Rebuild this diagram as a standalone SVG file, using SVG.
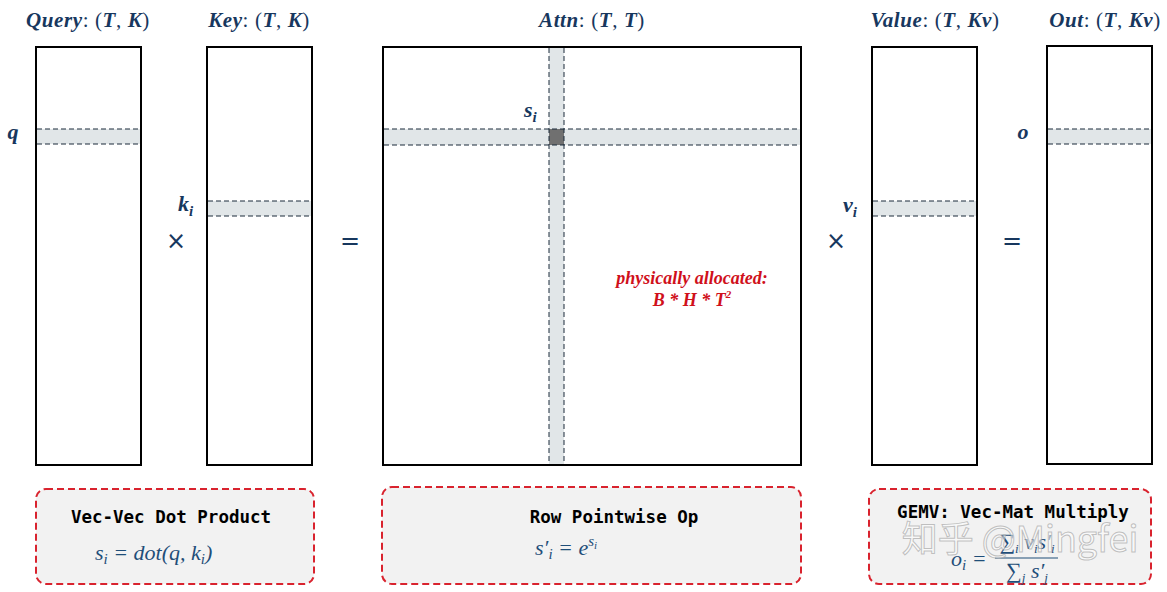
<svg xmlns="http://www.w3.org/2000/svg" width="1167" height="592" viewBox="0 0 1167 592">
<style>
.mat{fill:#fff;stroke:#000;stroke-width:2}
.band{fill:#e1e6e8;stroke:none}
.dash{stroke:#1a2a3a;stroke-width:1;stroke-dasharray:5 3;fill:none}
.t{font-family:"Liberation Serif",serif;fill:#17375e}
.bi{font-weight:bold;font-style:italic}
.op{font-family:"DejaVu Sans",sans-serif;fill:#17375e;font-size:24px}
.box{fill:#f2f2f2;stroke:#d9232e;stroke-width:2;stroke-dasharray:7 4}
.mono{font-family:"DejaVu Sans Mono","Liberation Mono",monospace;font-weight:bold;font-size:17.5px;fill:#000}
.f{font-family:"Liberation Serif",serif;font-style:italic;fill:#1f4e79;font-size:22px}
.red{font-family:"Liberation Serif",serif;font-weight:bold;font-style:italic;fill:#d0101b;font-size:18px}
</style>
<g id="titles" class="t" font-size="21" letter-spacing="0.6">
<text x="88" y="27" text-anchor="middle"><tspan class="bi">Query</tspan>: (<tspan class="bi">T</tspan>, <tspan class="bi">K</tspan>)</text>
<text x="259" y="27" text-anchor="middle"><tspan class="bi">Key</tspan>: (<tspan class="bi">T</tspan>, <tspan class="bi">K</tspan>)</text>
<text x="592" y="27" text-anchor="middle"><tspan class="bi">Attn</tspan>: (<tspan class="bi">T</tspan>, <tspan class="bi">T</tspan>)</text>
<text x="935" y="27" text-anchor="middle"><tspan class="bi">Value</tspan>: (<tspan class="bi">T</tspan>, <tspan class="bi">Kv</tspan>)</text>
<text x="1105" y="27" text-anchor="middle"><tspan class="bi">Out</tspan>: (<tspan class="bi">T</tspan>, <tspan class="bi">Kv</tspan>)</text>
</g>
<g id="query">
<rect class="mat" x="36" y="47" width="105" height="418"/>
<rect class="band" x="37" y="129" width="103" height="15"/>
<line class="dash" x1="37" y1="129" x2="140" y2="129"/><line class="dash" x1="37" y1="144" x2="140" y2="144"/>
<text class="t bi" x="13" y="139" font-size="22" text-anchor="middle">q</text>
</g>
<g id="key">
<rect class="mat" x="207" y="47" width="105" height="418"/>
<rect class="band" x="208" y="201" width="103" height="15"/>
<line class="dash" x1="208" y1="201" x2="311" y2="201"/><line class="dash" x1="208" y1="216" x2="311" y2="216"/>
<text class="t bi" x="178" y="211" font-size="22">k<tspan font-size="15" dy="5">i</tspan></text>
</g>
<g id="attn">
<rect class="mat" x="383" y="47" width="418" height="418"/>
<rect class="band" x="384" y="129" width="416" height="16"/>
<rect class="band" x="549" y="48" width="15" height="416"/>
<rect x="549" y="129" width="15" height="16" fill="#707070"/>
<line class="dash" x1="384" y1="129" x2="800" y2="129"/><line class="dash" x1="384" y1="145" x2="800" y2="145"/>
<line class="dash" x1="549" y1="48" x2="549" y2="464"/><line class="dash" x1="564" y1="48" x2="564" y2="464"/>
<text class="t bi" x="524" y="117" font-size="22">s<tspan font-size="15" dy="5">i</tspan></text>
<text class="red" x="692" y="284" text-anchor="middle">physically allocated:</text>
<text class="red" x="692" y="306" text-anchor="middle">B * H * T<tspan font-size="11" dy="-8">2</tspan></text>
</g>
<g id="value">
<rect class="mat" x="872" y="47" width="105" height="418"/>
<rect class="band" x="873" y="201" width="103" height="15"/>
<line class="dash" x1="873" y1="201" x2="976" y2="201"/><line class="dash" x1="873" y1="216" x2="976" y2="216"/>
<text class="t bi" x="843" y="212" font-size="22">v<tspan font-size="15" dy="5">i</tspan></text>
</g>
<g id="out">
<rect class="mat" x="1047" y="46" width="105" height="418"/>
<rect class="band" x="1048" y="129" width="103" height="15"/>
<line class="dash" x1="1048" y1="129" x2="1151" y2="129"/><line class="dash" x1="1048" y1="144" x2="1151" y2="144"/>
<text class="t bi" x="1023" y="139" font-size="22" text-anchor="middle">o</text>
</g>
<g id="operators">
<text class="op" x="176" y="249" text-anchor="middle">×</text>
<text class="op" x="350" y="249" text-anchor="middle">=</text>
<text class="op" x="836" y="249" text-anchor="middle">×</text>
<text class="op" x="1012" y="249" text-anchor="middle">=</text>
</g>
<g id="box-dot">
<rect class="box" x="36" y="489" width="278" height="95" rx="10"/>
<text class="mono" x="171" y="523" text-anchor="middle">Vec-Vec Dot Product</text>
<text class="f" x="95" y="560">s<tspan font-size="15" dy="4">i</tspan><tspan dy="-4"> = dot(q, k</tspan><tspan font-size="15" dy="4">i</tspan><tspan dy="-4">)</tspan></text>
</g>
<g id="box-row">
<rect class="box" x="382" y="487" width="419" height="97" rx="10"/>
<text class="mono" x="614" y="523" text-anchor="middle">Row Pointwise Op</text>
<text class="f" x="535" y="555">s′<tspan font-size="15" dy="4">i</tspan><tspan dy="-4"> = e</tspan><tspan font-size="15" dy="-9">s</tspan><tspan font-size="11" dy="3">i</tspan></text>
</g>
<g id="box-gemv">
<rect class="box" x="869" y="489" width="282" height="95" rx="10"/>
<text class="mono" x="1013" y="518" text-anchor="middle">GEMV: Vec-Mat Multiply</text>
<text class="f" x="951" y="566">o<tspan font-size="15" dy="4">i</tspan><tspan dy="-4"> =</tspan></text>
<text class="f" x="1027" y="549" text-anchor="middle" font-size="19"><tspan font-style="normal">∑</tspan><tspan font-size="13" dy="4">i</tspan><tspan dy="-4"> v</tspan><tspan font-size="13" dy="4">i</tspan><tspan dy="-4">s′</tspan><tspan font-size="13" dy="4">i</tspan></text>
<line x1="995" y1="558" x2="1058" y2="558" stroke="#1f4e79" stroke-width="1.2"/>
<text class="f" x="1027" y="578" text-anchor="middle" font-size="19"><tspan font-style="normal">∑</tspan><tspan font-size="13" dy="4">j</tspan><tspan dy="-4"> s′</tspan><tspan font-size="13" dy="4">j</tspan></text>
</g>
<g id="watermark">
<text x="1020" y="552" text-anchor="middle" font-family="Noto Sans CJK SC, Noto Sans, sans-serif" font-size="36" fill="#ffffff" fill-opacity="0.55" stroke="#9a9a9a" stroke-opacity="0.6" stroke-width="1">知乎 @Mingfei</text>
</g>
</svg>
